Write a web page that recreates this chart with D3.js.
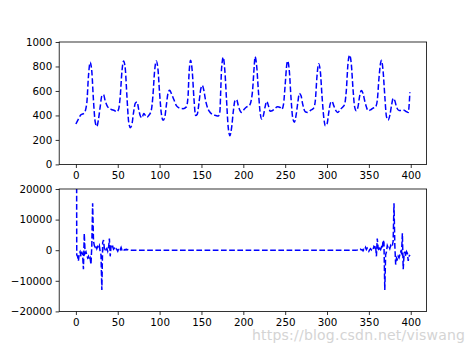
<!DOCTYPE html>
<html>
<head>
<meta charset="utf-8">
<script src="https://cdn.jsdelivr.net/npm/d3@7"></script>
<style>
  body { margin: 0; background: #fff; }
  svg text { font-family: "DejaVu Sans", sans-serif; }
</style>
</head>
<body>
<svg id="chart"></svg>
<script>
// top panel: signal (index, value)
const topX = [0,3,6,10,13,15,17,19,21,23,25,27,29,31,33,35,38,42,46,49,51,53,55,57,59,61,63,65,67,69,71,73,75,77,79,81,83,85,87,90,92,94,96,98,100,102,104,106,108,110,112,114,117,120,124,128,132,134,135,137,139,141,143,145,147,149,151,153,155,158,161,164,167,170,172,173,174,176,178,180,182,184,186,188,190,192,194,196,198,201,204,207,209,211,213,214,216,218,220,222,224,226,228,230,232,235,238,241,244,246,248,250,252,253,255,257,259,261,263,265,267,269,271,274,277,280,284,286,288,290,292,294,296,298,300,302,304,306,308,311,313,316,319,321,323,325,327,329,331,333,335,337,339,341,343,345,347,349,352,355,358,360,362,364,365,367,369,371,373,375,377,379,381,383,386,389,392,395,397,399];
const topY = [330,370,405,420,500,720,835,760,520,350,310,370,470,560,570,520,470,450,440,430,450,560,760,845,780,550,350,300,330,430,500,510,450,395,380,415,400,385,400,440,560,760,845,780,580,420,360,380,480,580,605,580,530,480,460,455,470,560,720,850,760,540,400,410,500,610,645,600,520,450,420,405,400,395,430,600,780,875,760,520,300,235,300,430,520,530,480,440,425,450,470,480,510,600,800,880,800,600,430,370,400,470,515,480,435,440,460,470,465,450,490,650,820,845,760,540,380,345,400,500,580,560,490,430,425,440,460,520,720,822,760,560,390,315,330,420,500,515,480,435,425,450,470,490,600,820,893,820,620,470,438,470,560,603,580,520,470,440,445,460,470,520,700,830,850,760,560,390,362,400,480,540,520,470,440,440,442,430,425,590];

// bottom panel: real part of the spectrum, estimated (index, value)
const fftK = [0,1,2,3,4,5,6,7,8,9,10,11,12,13,14,15,16,17,18,19,20,21,22,23,24,25,26,27,28,29,30,31,32,33,34,35,36,37,38,39,40,41,42,43,44,45,46,47,48,49,50,51,52,53,54,55,56,57,58,59,60,61,62,64,66,
  334,336,338,339,340,341,342,343,344,345,346,347,348,349,350,351,352,353,354,355,356,357,358,359,360,361,362,363,364,365,366,367,368,369,370,371,372,373,374,375,376,377,378,379,380,381,382,383,384,385,386,387,388,389,390,391,392,393,394,395,396,397,398,399];
const fftVal = [200000,-1500,-2000,-3500,-1000,-500,-2000,-500,-1500,-6200,5500,-1000,-500,-1500,-2500,-2000,-3000,-2500,-4700,1500,15300,3000,1500,1000,1500,500,1200,800,1500,-500,-1500,-13000,2500,3300,500,1000,200,600,-300,800,3800,-2000,1500,800,1200,300,600,100,500,200,-300,400,700,200,900,100,300,-200,200,100,300,100,200,50,0,
  0,50,200,100,300,100,200,-200,300,100,900,200,700,400,-300,200,500,100,600,300,1200,800,1500,-2000,3800,800,-300,600,200,1000,500,3300,2500,-13000,-1500,-500,1500,800,1200,500,1500,1000,1500,3000,15300,1500,-4700,-2500,-3000,-2000,-2500,-1500,-500,-1000,5500,-6200,-1500,-500,-2000,-500,-1000,-3500,-2000,-1500];

const xTicks = [0, 50, 100, 150, 200, 250, 300, 350, 400];
const topYTicks = [0, 200, 400, 600, 800, 1000];
const botYTicks = [-20000, -10000, 0, 10000, 20000];

const W = 474, H = 350;
const left = 59.2, right = 426.6;
const panels = [
  {top: 42.0, bottom: 164.4, domain: [0, 1000], ticks: topYTicks, xs: topX, ys: topY, curve: d3.curveMonotoneX},
  {top: 189.0, bottom: 311.4, domain: [-20000, 20000], ticks: botYTicks, xs: fftK, ys: fftVal, curve: d3.curveLinear}
];

const svg = d3.select('#chart').attr('width', W).attr('height', H);

const x = d3.scaleLinear().domain([-19.95, 418.95]).range([left, right]);
const fmt = v => String(v).replace('-', '\u2212');

panels.forEach((p, i) => {
  const y = d3.scaleLinear().domain(p.domain).range([p.bottom, p.top]);

  svg.append('clipPath').attr('id', 'clip' + i)
    .append('rect')
    .attr('x', left).attr('y', p.top)
    .attr('width', right - left).attr('height', p.bottom - p.top);

  const line = d3.line()
    .x((d, j) => x(p.xs[j]))
    .y(d => y(d))
    .curve(p.curve);

  svg.append('path')
    .datum(p.ys)
    .attr('clip-path', `url(#clip${i})`)
    .attr('fill', 'none')
    .attr('stroke', '#0000ff')
    .attr('stroke-width', 1.5)
    .attr('stroke-dasharray', '5.7,2.5')
    .attr('d', line);

  // axes
  const gx = svg.append('g')
    .attr('transform', `translate(0,${p.bottom})`)
    .call(d3.axisBottom(x).tickValues(xTicks).tickSize(3.6).tickPadding(3.4).tickFormat(fmt));
  const gy = svg.append('g')
    .attr('transform', `translate(${left},0)`)
    .call(d3.axisLeft(y).tickValues(p.ticks).tickSize(3.6).tickPadding(3.4).tickFormat(fmt));
  [gx, gy].forEach(g => {
    g.select('.domain').remove();
    g.selectAll('line').attr('stroke', '#000').attr('stroke-width', 0.8);
    g.selectAll('text').attr('font-size', '10.3px').attr('fill', '#000')
      .attr('font-family', '"DejaVu Sans", sans-serif');
  });

  svg.append('rect')
    .attr('x', left).attr('y', p.top)
    .attr('width', right - left).attr('height', p.bottom - p.top)
    .attr('fill', 'none').attr('stroke', '#000').attr('stroke-width', 0.8);
});

// watermark
svg.append('text')
  .attr('x', 252).attr('y', 340)
  .attr('font-family', '"Liberation Serif", serif')
  .attr('font-size', '14px')
  .attr('fill', '#d4d4d4')
  .attr('textLength', 213)
  .text('https://blog.csdn.net/viswang');
</script>
</body>
</html>
